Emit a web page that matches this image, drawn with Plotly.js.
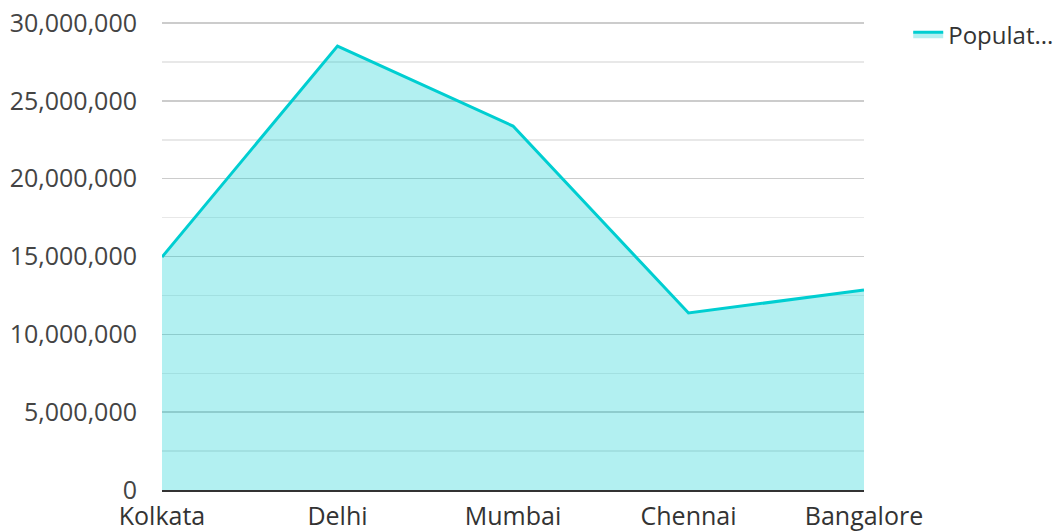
<!DOCTYPE html>
<html><head><meta charset="utf-8">
<script src="https://cdn.plot.ly/plotly-3.0.1.min.js"></script>
<style>body{margin:0;background:#fff}#chart{width:1061px;height:531px}</style>
</head><body><div id="chart"></div>
<script>
const cities = ["Kolkata", "Delhi", "Mumbai", "Chennai", "Bangalore"];
const population = [14970000, 28520000, 23380000, 11370000, 12850000];
const seriesName = "Populat...";
const yTicks = [0, 5000000, 10000000, 15000000, 20000000, 25000000, 30000000];
const yTickLabels = ["0", "5,000,000", "10,000,000", "15,000,000", "20,000,000", "25,000,000", "30,000,000"];

Plotly.newPlot("chart", [{
  x: cities, y: population, type: "scatter", mode: "lines", name: seriesName,
  fill: "tozeroy", fillcolor: "rgba(0,206,209,0.3)",
  line: {color: "#00CED1", width: 3}
}], {
  width: 1061, height: 531,
  margin: {l: 162, r: 197, t: 21, b: 41},
  paper_bgcolor: "#fff", plot_bgcolor: "#fff",
  font: {family: "Open Sans, Noto Sans, sans-serif", size: 25, color: "#444"},
  showlegend: true,
  legend: {xref: "container", yref: "container", x: 0.856, y: 0.977, xanchor: "left", yanchor: "top",
    font: {size: 24, color: "#333"}},
  xaxis: {type: "category", range: [0, 4], showgrid: false, zeroline: false,
    showline: true, linecolor: "#333", linewidth: 2, ticks: "", fixedrange: true,
    tickfont: {size: 25, color: "#333"}, ticklabelstandoff: 3},
  yaxis: {range: [0, 30130000], tickvals: yTicks, ticktext: yTickLabels,
    showgrid: true, gridcolor: "#ccc", gridwidth: 1.5, zeroline: false, showline: false, ticks: "",
    ticklabelstandoff: 24,
    minor: {dtick: 2500000, showgrid: true, gridcolor: "#e8e8e8", gridwidth: 1.5}}
}, {displayModeBar: false, staticPlot: true});
</script></body></html>
